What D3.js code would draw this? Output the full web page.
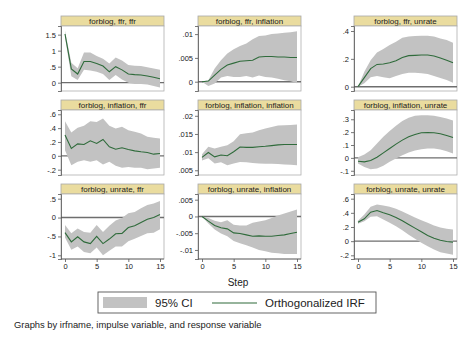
<!DOCTYPE html>
<html>
<head>
<meta charset="utf-8">
<script src="https://cdn.jsdelivr.net/npm/d3@7"></script>
<style>
  html, body { margin: 0; padding: 0; background: #fff; }
  svg { display: block; font-family: "Liberation Sans", Arial, sans-serif; }
</style>
</head>
<body>
<svg id="chart" width="474" height="344"></svg>
<script>
// Impulse-response steps
const steps = d3.range(0, 16);

// Panel titles (irfname, impulse, response), row by row
const titles = [
  "forblog, ffr, ffr", "forblog, ffr, inflation", "forblog, ffr, unrate",
  "forblog, inflation, ffr", "forblog, inflation, inflation", "forblog, inflation, unrate",
  "forblog, unrate, ffr", "forblog, unrate, inflation", "forblog, unrate, unrate"
];

// Orthogonalized IRF and 95% CI bounds, one set per impulse/response pair
const irf_ffr_ffr = [1.52, 0.43, 0.27, 0.66, 0.66, 0.60, 0.52, 0.34, 0.50, 0.40, 0.27, 0.25, 0.24, 0.21, 0.17, 0.125];
const lo_ffr_ffr  = [1.42, 0.20, 0.08, 0.40, 0.38, 0.34, 0.27, 0.08, 0.24, 0.10, 0.00, -0.04, -0.04, -0.06, -0.10, -0.15];
const hi_ffr_ffr  = [1.62, 0.62, 0.45, 0.94, 0.94, 0.83, 0.75, 0.60, 0.79, 0.69, 0.55, 0.53, 0.52, 0.48, 0.44, 0.40];

const irf_ffr_inf = [0, 0.00014, 0.0014, 0.0026, 0.0035, 0.0039, 0.0043, 0.0044, 0.0045, 0.0052, 0.0053, 0.0053, 0.0052, 0.0052, 0.0051, 0.0051];
const lo_ffr_inf  = [0, -0.0009, -0.0004, 0.0009, 0.0012, 0.0010, 0.0010, 0.0012, 0.0009, 0.0013, 0.0010, 0.0009, 0.0006, 0.0003, 0.0001, -0.0003];
const hi_ffr_inf  = [0, 0.0003, 0.0028, 0.0045, 0.0059, 0.0068, 0.0075, 0.0080, 0.0089, 0.0096, 0.0097, 0.0100, 0.0101, 0.0103, 0.0104, 0.0106];

const irf_ffr_unr = [0, 0.065, 0.13, 0.16, 0.163, 0.172, 0.187, 0.21, 0.223, 0.225, 0.228, 0.228, 0.22, 0.206, 0.19, 0.172];
const lo_ffr_unr  = [0, 0.024, 0.067, 0.077, 0.067, 0.06, 0.077, 0.091, 0.10, 0.10, 0.096, 0.091, 0.077, 0.062, 0.048, 0.029];
const hi_ffr_unr  = [0, 0.108, 0.19, 0.245, 0.27, 0.30, 0.323, 0.352, 0.36, 0.364, 0.366, 0.366, 0.36, 0.347, 0.335, 0.316];

const irf_inf_ffr = [0.30, 0.106, 0.173, 0.164, 0.217, 0.178, 0.236, 0.13, 0.096, 0.116, 0.092, 0.072, 0.058, 0.048, 0.024, 0.034];
const lo_inf_ffr  = [0.08, -0.135, -0.087, -0.063, -0.087, -0.063, -0.125, -0.087, -0.145, -0.173, -0.16, -0.173, -0.173, -0.193, -0.183, -0.173];
const hi_inf_ffr  = [0.50, 0.337, 0.405, 0.434, 0.50, 0.49, 0.54, 0.434, 0.395, 0.42, 0.37, 0.347, 0.323, 0.275, 0.26, 0.25];

const irf_inf_inf = [0.00854, 0.0099, 0.0087, 0.0092, 0.0090, 0.0101, 0.0114, 0.0113, 0.0113, 0.01146, 0.0116, 0.0118, 0.0120, 0.0121, 0.0121, 0.0121];
const lo_inf_inf  = [0.0077, 0.0083, 0.0069, 0.0072, 0.0064, 0.0069, 0.0073, 0.0072, 0.0070, 0.0069, 0.0068, 0.0068, 0.0067, 0.0066, 0.0065, 0.0064];
const hi_inf_inf  = [0.0094, 0.0115, 0.0110, 0.0115, 0.0119, 0.0130, 0.0149, 0.0152, 0.0154, 0.0160, 0.0165, 0.0169, 0.0173, 0.0174, 0.0175, 0.0176];

const irf_inf_unr = [-0.026, -0.031, -0.021, 0.005, 0.039, 0.073, 0.107, 0.138, 0.164, 0.182, 0.195, 0.197, 0.195, 0.187, 0.174, 0.158];
const lo_inf_unr  = [-0.044, -0.07, -0.088, -0.083, -0.062, -0.031, -0.005, 0.021, 0.042, 0.057, 0.068, 0.073, 0.073, 0.065, 0.052, 0.034];
const hi_inf_unr  = [0.005, 0.026, 0.06, 0.112, 0.164, 0.208, 0.249, 0.286, 0.312, 0.327, 0.332, 0.332, 0.327, 0.317, 0.306, 0.291];

const irf_unr_ffr = [-0.40, -0.645, -0.51, -0.645, -0.69, -0.50, -0.69, -0.57, -0.43, -0.42, -0.265, -0.22, -0.13, -0.044, 0.0, 0.08];
const lo_unr_ffr  = [-0.53, -0.856, -0.768, -0.91, -0.945, -0.794, -1.0, -0.88, -0.77, -0.77, -0.63, -0.56, -0.49, -0.415, -0.40, -0.31];
const hi_unr_ffr  = [-0.20, -0.415, -0.29, -0.38, -0.40, -0.20, -0.38, -0.22, -0.08, -0.01, 0.115, 0.15, 0.247, 0.335, 0.37, 0.44];

const irf_unr_inf = [0, -0.0014, -0.0027, -0.0034, -0.0037, -0.0049, -0.0051, -0.0055, -0.0059, -0.0058, -0.0059, -0.0059, -0.0057, -0.0055, -0.0051, -0.0047];
const lo_unr_inf  = [0, -0.0021, -0.0039, -0.0051, -0.0059, -0.0073, -0.0080, -0.0086, -0.0093, -0.0100, -0.0104, -0.0108, -0.0110, -0.0112, -0.0112, -0.0112];
const hi_unr_inf  = [0, -0.0005, -0.0013, -0.0017, -0.0011, -0.0025, -0.0027, -0.0027, -0.0019, -0.0015, -0.0011, -0.0005, 0.0003, 0.0009, 0.0015, 0.0021];

const irf_unr_unr = [0.268, 0.315, 0.41, 0.433, 0.40, 0.372, 0.334, 0.287, 0.235, 0.184, 0.132, 0.08, 0.042, 0.014, -0.005, -0.014];
const lo_unr_unr  = [0.245, 0.282, 0.344, 0.353, 0.306, 0.259, 0.212, 0.155, 0.089, 0.033, -0.024, -0.071, -0.118, -0.155, -0.174, -0.193];
const hi_unr_unr  = [0.287, 0.376, 0.485, 0.518, 0.504, 0.485, 0.456, 0.419, 0.376, 0.334, 0.296, 0.259, 0.221, 0.193, 0.174, 0.165];

// Y-axis tick values per panel
const yTicks = [
  [0, 0.5, 1, 1.5], [0, 0.005, 0.01], [0, 0.2, 0.4],
  [-0.2, 0, 0.2, 0.4, 0.6], [0.005, 0.01, 0.015, 0.02], [-0.1, 0, 0.1, 0.2, 0.3],
  [-1, -0.5, 0, 0.5], [-0.01, -0.005, 0, 0.005], [-0.2, 0, 0.2, 0.4, 0.6]
];
// Y-axis ranges per panel
const yDomains = [
  [-0.26, 1.77], [-0.00195, 0.0117], [-0.031, 0.436],
  [-0.277, 0.662], [0.0037, 0.0216], [-0.133, 0.372],
  [-1.098, 0.624], [-0.0127, 0.0067], [-0.252, 0.666]
];
const xTicks = [0, 5, 10, 15];

const irfs = [irf_ffr_ffr, irf_ffr_inf, irf_ffr_unr, irf_inf_ffr, irf_inf_inf, irf_inf_unr, irf_unr_ffr, irf_unr_inf, irf_unr_unr];
const los  = [lo_ffr_ffr, lo_ffr_inf, lo_ffr_unr, lo_inf_ffr, lo_inf_inf, lo_inf_unr, lo_unr_ffr, lo_unr_inf, lo_unr_unr];
const his  = [hi_ffr_ffr, hi_ffr_inf, hi_ffr_unr, hi_inf_ffr, hi_inf_inf, hi_inf_unr, hi_unr_ffr, hi_unr_inf, hi_unr_unr];

// Stata-style tick labels: drop the leading zero (".5", "-.01")
const fmtTick = v => {
  if (v === 0) return "0";
  let s = String(+v.toPrecision(6));
  return s.replace(/^(-?)0\./, "$1.");
};

const svg = d3.select("#chart");
const colX = [61, 198, 354];
const rowY = [16, 100, 184];
const panelW = 103, headH = 10, plotH = 65;

const bandColor = "#c2c2c2";
const lineColor = "#2f6b3b";
const headFill = "#eadc9f";

titles.forEach((title, i) => {
  const c = i % 3, r = Math.floor(i / 3);
  const x0 = colX[c], y0 = rowY[r];
  const top = y0 + headH, bottom = top + plotH;

  const x = d3.scaleLinear().domain([0, 15]).range([x0 + 4, x0 + 99]);
  const y = d3.scaleLinear().domain(yDomains[i]).range([bottom, top]);

  const g = svg.append("g");

  // strip header
  g.append("rect").attr("x", x0).attr("y", y0).attr("width", panelW).attr("height", headH)
    .attr("fill", headFill).attr("stroke", "#a8a8a8").attr("stroke-width", 0.8);
  g.append("text").attr("x", x0 + panelW / 2).attr("y", y0 + headH / 2)
    .attr("dy", "0.35em").attr("text-anchor", "middle")
    .attr("font-size", 8).attr("fill", "#222").text(title);

  // plot region
  const clipId = "clip" + i;
  svg.append("clipPath").attr("id", clipId).append("rect")
    .attr("x", x0).attr("y", top).attr("width", panelW).attr("height", plotH);
  g.append("rect").attr("x", x0).attr("y", top).attr("width", panelW).attr("height", plotH)
    .attr("fill", "#fff").attr("stroke", "#b0b0b0").attr("stroke-width", 0.8);

  const inner = g.append("g").attr("clip-path", `url(#${clipId})`);

  // reference line at zero
  const [d0, d1] = yDomains[i];
  if (d0 < 0 && d1 > 0) {
    inner.append("line").attr("x1", x0).attr("x2", x0 + panelW)
      .attr("y1", y(0)).attr("y2", y(0))
      .attr("stroke", "#6e6e6e").attr("stroke-width", 1.4);
  }

  // confidence band
  const area = d3.area().x(d => x(d)).y0(d => y(los[i][d])).y1(d => y(his[i][d]));
  inner.append("path").datum(steps).attr("d", area).attr("fill", bandColor);

  // IRF line
  const line = d3.line().x(d => x(d)).y(d => y(irfs[i][d]));
  inner.append("path").datum(steps).attr("d", line)
    .attr("fill", "none").attr("stroke", lineColor).attr("stroke-width", 1.1);

  // y axis
  const yAxis = d3.axisLeft(y).tickValues(yTicks[i]).tickSize(3).tickPadding(2).tickFormat(fmtTick);
  const ya = g.append("g").attr("transform", `translate(${x0},0)`).call(yAxis);
  ya.select(".domain").attr("stroke", "#555").attr("stroke-width", 0.8);
  ya.selectAll(".tick line").attr("stroke", "#555").attr("stroke-width", 0.8);
  ya.selectAll("text").attr("font-size", 7.5).attr("fill", "#222")
    .attr("font-family", "'Liberation Sans', Arial, sans-serif");

  // x axis on the bottom row only
  if (r === 2) {
    const xAxis = d3.axisBottom(x).tickValues(xTicks).tickSize(3).tickPadding(2).tickFormat(d3.format("d"));
    const xa = g.append("g").attr("transform", `translate(0,${bottom})`).call(xAxis);
    xa.select(".domain").attr("stroke", "#555").attr("stroke-width", 0.8)
      .attr("d", `M${x0},0H${x0 + panelW}`);
    xa.selectAll(".tick line").attr("stroke", "#555").attr("stroke-width", 0.8);
    xa.selectAll("text").attr("font-size", 7.5).attr("fill", "#222")
      .attr("font-family", "'Liberation Sans', Arial, sans-serif");
  }
});

// axis title
svg.append("text").attr("x", 238).attr("y", 282).attr("dy", "0.35em")
  .attr("text-anchor", "middle").attr("font-size", 10).attr("fill", "#222").text("Step");

// legend
const leg = svg.append("g");
leg.append("rect").attr("x", 98).attr("y", 292).attr("width", 278).attr("height", 21)
  .attr("fill", "#fff").attr("stroke", "#555").attr("stroke-width", 0.9);
leg.append("rect").attr("x", 103).attr("y", 297).attr("width", 44).attr("height", 11)
  .attr("fill", bandColor);
leg.append("text").attr("x", 155).attr("y", 303).attr("dy", "0.35em")
  .attr("font-size", 11.5).attr("fill", "#222").text("95% CI");
leg.append("line").attr("x1", 212).attr("x2", 257).attr("y1", 303).attr("y2", 303)
  .attr("stroke", lineColor).attr("stroke-width", 1.2);
leg.append("text").attr("x", 265).attr("y", 303).attr("dy", "0.35em")
  .attr("font-size", 11.5).attr("fill", "#222").text("Orthogonalized IRF");

// note
svg.append("text").attr("x", 14).attr("y", 325).attr("dy", "0.35em")
  .attr("font-size", 9.4).attr("fill", "#222")
  .text("Graphs by irfname, impulse variable, and response variable");
</script>
</body>
</html>
